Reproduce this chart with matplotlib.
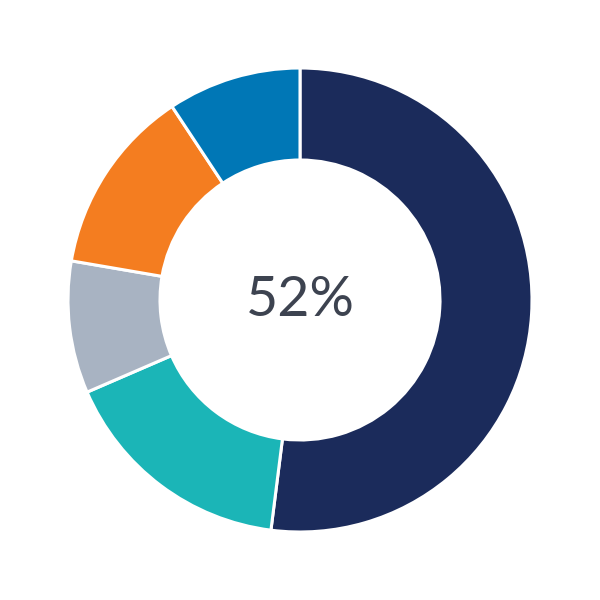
import matplotlib
matplotlib.use("Agg")
import matplotlib.pyplot as plt

# segment shares, clockwise from 12 o'clock
labels = ["A", "B", "C", "D", "E"]
shares = [52, 16.5, 9.2, 13, 9.3]
colors = ["#1b2b5b", "#1bb5b7", "#a8b3c2", "#f47d20", "#0077b6"]
center_label = "52%"

OUTER_PX = 232
INNER_PX = 140

fig = plt.figure(figsize=(6, 6), dpi=100)
ax = fig.add_axes([0, 0, 1, 1])

ax.pie(
    shares,
    colors=colors,
    startangle=90,
    counterclock=False,
    radius=1.0,
    wedgeprops=dict(width=1 - INNER_PX / OUTER_PX, edgecolor="white", linewidth=2.2),
)

ax.text(0, 0, center_label, ha="center", va="center", fontsize=40,
        color="#3d4350", family=["Lato", "DejaVu Sans"], fontweight="normal")

lim = 300 / OUTER_PX
ax.set_xlim(-lim, lim)
ax.set_ylim(-lim, lim)
ax.set_aspect("equal")
ax.axis("off")

fig.savefig("out.png", dpi=100, facecolor="white")
